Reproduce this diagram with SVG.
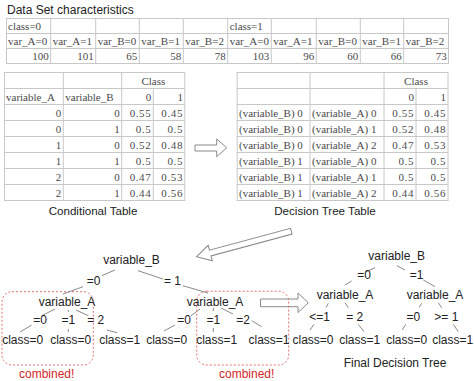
<svg xmlns="http://www.w3.org/2000/svg" width="474" height="381" viewBox="0 0 474 381">
<defs>
<style>
.bg{fill:#fff}
.title{font-family:"Liberation Sans",Arial,sans-serif;font-size:12px;fill:#222}
.cap{font-family:"Liberation Sans",Arial,sans-serif;font-size:11.6px;fill:#222;text-anchor:middle}
.grid{stroke:#c8c8c8;stroke-width:1;fill:none}
.t{font-family:"Liberation Serif","Times New Roman",serif;font-size:11px;fill:#4a4a4a}
.r{text-anchor:end}
.m{text-anchor:middle}
.d{letter-spacing:0.6px}
.n{font-family:"Liberation Sans",Arial,sans-serif;font-size:12px;fill:#222;text-anchor:middle}
.e{stroke:#8a8a8a;stroke-width:1;fill:none}
.arrow{fill:#fff;stroke:#8a8a8a;stroke-width:1}
.box{fill:none;stroke:#e07070;stroke-width:1;stroke-dasharray:2,2}
.red{font-family:"Liberation Sans",Arial,sans-serif;font-size:12px;fill:#d02828;text-anchor:middle}
</style>
</defs>
<rect class="bg" x="0" y="0" width="474" height="381"/>

<!-- Data Set characteristics table -->
<g id="dataset-table">
<text class="title" x="7" y="14">Data Set characteristics</text>
<path class="grid" d="M6,18.5H448.7M6,33.5H448.7M6,48.5H448.7M6,63.5H448.7M6.5,18V64M50.7,18V64M95.7,18V64M139.3,18V64M183.3,18V64M227.7,18V64M271.3,18V64M316.3,18V64M360.3,18V64M403.7,18V64M448.5,18V64"/>
<text class="t" x="8" y="30">class=0</text>
<text class="t" x="229.7" y="30">class=1</text>
<text class="t" x="8" y="45">var_A=0</text>
<text class="t" x="52.7" y="45">var_A=1</text>
<text class="t" x="97.7" y="45">var_B=0</text>
<text class="t" x="141.3" y="45">var_B=1</text>
<text class="t" x="185.3" y="45">var_B=2</text>
<text class="t" x="229.7" y="45">var_A=0</text>
<text class="t" x="273.3" y="45">var_A=1</text>
<text class="t" x="318.3" y="45">var_B=0</text>
<text class="t" x="362.3" y="45">var_B=1</text>
<text class="t" x="405.7" y="45">var_B=2</text>
<text class="t r" x="48.7" y="60">100</text>
<text class="t r" x="93.7" y="60">101</text>
<text class="t r" x="137.3" y="60">65</text>
<text class="t r" x="181.3" y="60">58</text>
<text class="t r" x="225.7" y="60">78</text>
<text class="t r" x="269.3" y="60">103</text>
<text class="t r" x="314.3" y="60">96</text>
<text class="t r" x="358.3" y="60">60</text>
<text class="t r" x="401.7" y="60">66</text>
<text class="t r" x="446.7" y="60">73</text>
</g>

<!-- Conditional Table -->
<g id="conditional-table">
<path class="grid" d="M4,72.5H185M4,88.5H185M4,104.5H185M4,120.5H185M4,136.5H185M4,152.5H185M4,168.5H185M4,184.5H185M4,200.5H185M4.5,72V201M63.3,72V201M121.7,72V201M153.3,88V201M184.8,72V201"/>
<text class="t m" x="153.3" y="85">Class</text>
<text class="t" x="6" y="101">variable_A</text>
<text class="t" x="65.3" y="101">variable_B</text>
<text class="t r" x="151.3" y="101">0</text>
<text class="t r" x="183" y="101">1</text>
<text class="t r" x="61.3" y="117">0</text><text class="t r" x="119.7" y="117">0</text><text class="t r d" x="151.3" y="117">0.55</text><text class="t r d" x="183" y="117">0.45</text>
<text class="t r" x="61.3" y="133">0</text><text class="t r" x="119.7" y="133">1</text><text class="t r d" x="151.3" y="133">0.5</text><text class="t r d" x="183" y="133">0.5</text>
<text class="t r" x="61.3" y="149">1</text><text class="t r" x="119.7" y="149">0</text><text class="t r d" x="151.3" y="149">0.52</text><text class="t r d" x="183" y="149">0.48</text>
<text class="t r" x="61.3" y="165">1</text><text class="t r" x="119.7" y="165">1</text><text class="t r d" x="151.3" y="165">0.5</text><text class="t r d" x="183" y="165">0.5</text>
<text class="t r" x="61.3" y="181">2</text><text class="t r" x="119.7" y="181">0</text><text class="t r d" x="151.3" y="181">0.47</text><text class="t r d" x="183" y="181">0.53</text>
<text class="t r" x="61.3" y="197">2</text><text class="t r" x="119.7" y="197">1</text><text class="t r d" x="151.3" y="197">0.44</text><text class="t r d" x="183" y="197">0.56</text>
<text class="cap" x="93" y="215">Conditional Table</text>
</g>

<!-- Decision Tree Table -->
<g id="decision-tree-table">
<path class="grid" d="M236.7,72.5H448.3M236.7,88.5H448.3M236.7,104.5H448.3M236.7,120.5H448.3M236.7,136.5H448.3M236.7,152.5H448.3M236.7,168.5H448.3M236.7,184.5H448.3M236.7,200.5H448.3M237.2,72V201M310,72V201M384,72V201M416,88V201M448,72V201"/>
<text class="t m" x="416" y="85">Class</text>
<text class="t r" x="414" y="101">0</text>
<text class="t r" x="446" y="101">1</text>
<text class="t" x="239" y="117">(variable_B) 0</text><text class="t" x="312" y="117">(variable_A) 0</text><text class="t r d" x="414" y="117">0.55</text><text class="t r d" x="446" y="117">0.45</text>
<text class="t" x="239" y="133">(variable_B) 0</text><text class="t" x="312" y="133">(variable_A) 1</text><text class="t r d" x="414" y="133">0.52</text><text class="t r d" x="446" y="133">0.48</text>
<text class="t" x="239" y="149">(variable_B) 0</text><text class="t" x="312" y="149">(variable_A) 2</text><text class="t r d" x="414" y="149">0.47</text><text class="t r d" x="446" y="149">0.53</text>
<text class="t" x="239" y="165">(variable_B) 1</text><text class="t" x="312" y="165">(variable_A) 0</text><text class="t r d" x="414" y="165">0.5</text><text class="t r d" x="446" y="165">0.5</text>
<text class="t" x="239" y="181">(variable_B) 1</text><text class="t" x="312" y="181">(variable_A) 1</text><text class="t r d" x="414" y="181">0.5</text><text class="t r d" x="446" y="181">0.5</text>
<text class="t" x="239" y="197">(variable_B) 1</text><text class="t" x="312" y="197">(variable_A) 2</text><text class="t r d" x="414" y="197">0.44</text><text class="t r d" x="446" y="197">0.56</text>
<text class="cap" x="325" y="215">Decision Tree Table</text>
</g>

<!-- Hollow arrows -->
<g id="arrows">
<polygon class="arrow" points="195,145 216.7,145 216.7,139 226.7,147.8 216.7,156.7 216.7,151 195,151"/>
<polygon class="arrow" transform="translate(196.7,256.7) rotate(-15.1)" points="0,0 14,-8 14,-3 98,-3 98,3 14,3 14,8"/>
<polygon class="arrow" points="260.5,299 298,299 298,293 308.3,302.8 298,312.5 298,306.7 260.5,306.7"/>
</g>

<!-- Combined boxes -->
<g id="combined-left">
<rect class="box" x="2" y="291.7" width="91.3" height="73.3" rx="10"/>
<text class="red" x="46.7" y="378">combined!</text>
</g>
<g id="combined-right">
<rect class="box" x="196.7" y="291.2" width="92" height="73.8" rx="10"/>
<text class="red" x="246.7" y="378">combined!</text>
</g>

<!-- Tree connectors -->
<g id="connectors">
<path class="e" d="M115,270L101.7,275.7M83,286.7L63,294M138,270.7L163,279M182.7,285.7L208,293"/>
<path class="e" d="M55,309L41.7,315.7M31.7,325L20,332M68.3,310V312M68.3,329V332M76,310L88.3,315.7M106.7,330L117,332.7"/>
<path class="e" d="M200,309L191,315.7M175,325L164,331M213.3,308V311M213.3,328V332M221,308L233,314M251.7,320.7L261.7,326.7"/>
<path class="e" d="M375,267.7L365,272.3M351.7,281L345,285M396.7,265.7L405,270M423.3,280L435,286.7"/>
<path class="e" d="M328.3,303.3L326,307.7M345,302.7L348.3,307.7M314,324.3L310,330M358.3,324.3L364,331.7"/>
<path class="e" d="M421.7,303.3L419,307.7M438.3,302.7L441.7,307.7M405.7,324.3L402.3,330M453.3,324.3L458.3,331.7"/>
</g>

<!-- Left tree -->
<g id="tree-left">
<g id="lt-varB"><text class="n" x="131.5" y="264">variable_B</text></g>
<g id="lt-e0"><text class="n" x="93.5" y="285">=0</text></g>
<g id="lt-e1"><text class="n" x="172.5" y="285">= 1</text></g>
<g id="lt-varA1"><text class="n" x="67" y="306">variable_A</text></g>
<g id="lt-varA2"><text class="n" x="215" y="306">variable_A</text></g>
<g id="lt-a1-0"><text class="n" x="40" y="324">=0</text></g>
<g id="lt-a1-1"><text class="n" x="68.3" y="324">=1</text></g>
<g id="lt-a1-2"><text class="n" x="95.7" y="324">= 2</text></g>
<g id="lt-a2-0"><text class="n" x="184" y="324">=0</text></g>
<g id="lt-a2-1"><text class="n" x="213.3" y="324">=1</text></g>
<g id="lt-a2-2"><text class="n" x="243" y="324">=2</text></g>
<g id="lt-c1"><text class="n" x="22.7" y="344">class=0</text></g>
<g id="lt-c2"><text class="n" x="70.7" y="344">class=0</text></g>
<g id="lt-c3"><text class="n" x="119.7" y="344">class=1</text></g>
<g id="lt-c4"><text class="n" x="166.7" y="344">class=0</text></g>
<g id="lt-c5"><text class="n" x="216.7" y="344">class=1</text></g>
<g id="lt-c6"><text class="n" x="269" y="344">class=1</text></g>
</g>

<!-- Final decision tree -->
<g id="tree-final">
<g id="ft-varB"><text class="n" x="396.7" y="260">variable_B</text></g>
<g id="ft-e0"><text class="n" x="364" y="279">=0</text></g>
<g id="ft-e1"><text class="n" x="416.7" y="279">=1</text></g>
<g id="ft-varA1"><text class="n" x="345" y="299">variable_A</text></g>
<g id="ft-varA2"><text class="n" x="435" y="299">variable_A</text></g>
<g id="ft-le1"><text class="n" x="319.7" y="321">&lt;=1</text></g>
<g id="ft-eq2"><text class="n" x="354.7" y="321">= 2</text></g>
<g id="ft-eq0"><text class="n" x="413.3" y="321">=0</text></g>
<g id="ft-ge1"><text class="n" x="446.3" y="321">&gt;= 1</text></g>
<g id="ft-c1"><text class="n" x="313" y="344">class=0</text></g>
<g id="ft-c2"><text class="n" x="359.7" y="344">class=1</text></g>
<g id="ft-c3"><text class="n" x="406.7" y="344">class=0</text></g>
<g id="ft-c4"><text class="n" x="452.7" y="344">class=1</text></g>
<text class="cap" x="395" y="367" style="font-size:12px">Final Decision Tree</text>
</g>
</svg>
